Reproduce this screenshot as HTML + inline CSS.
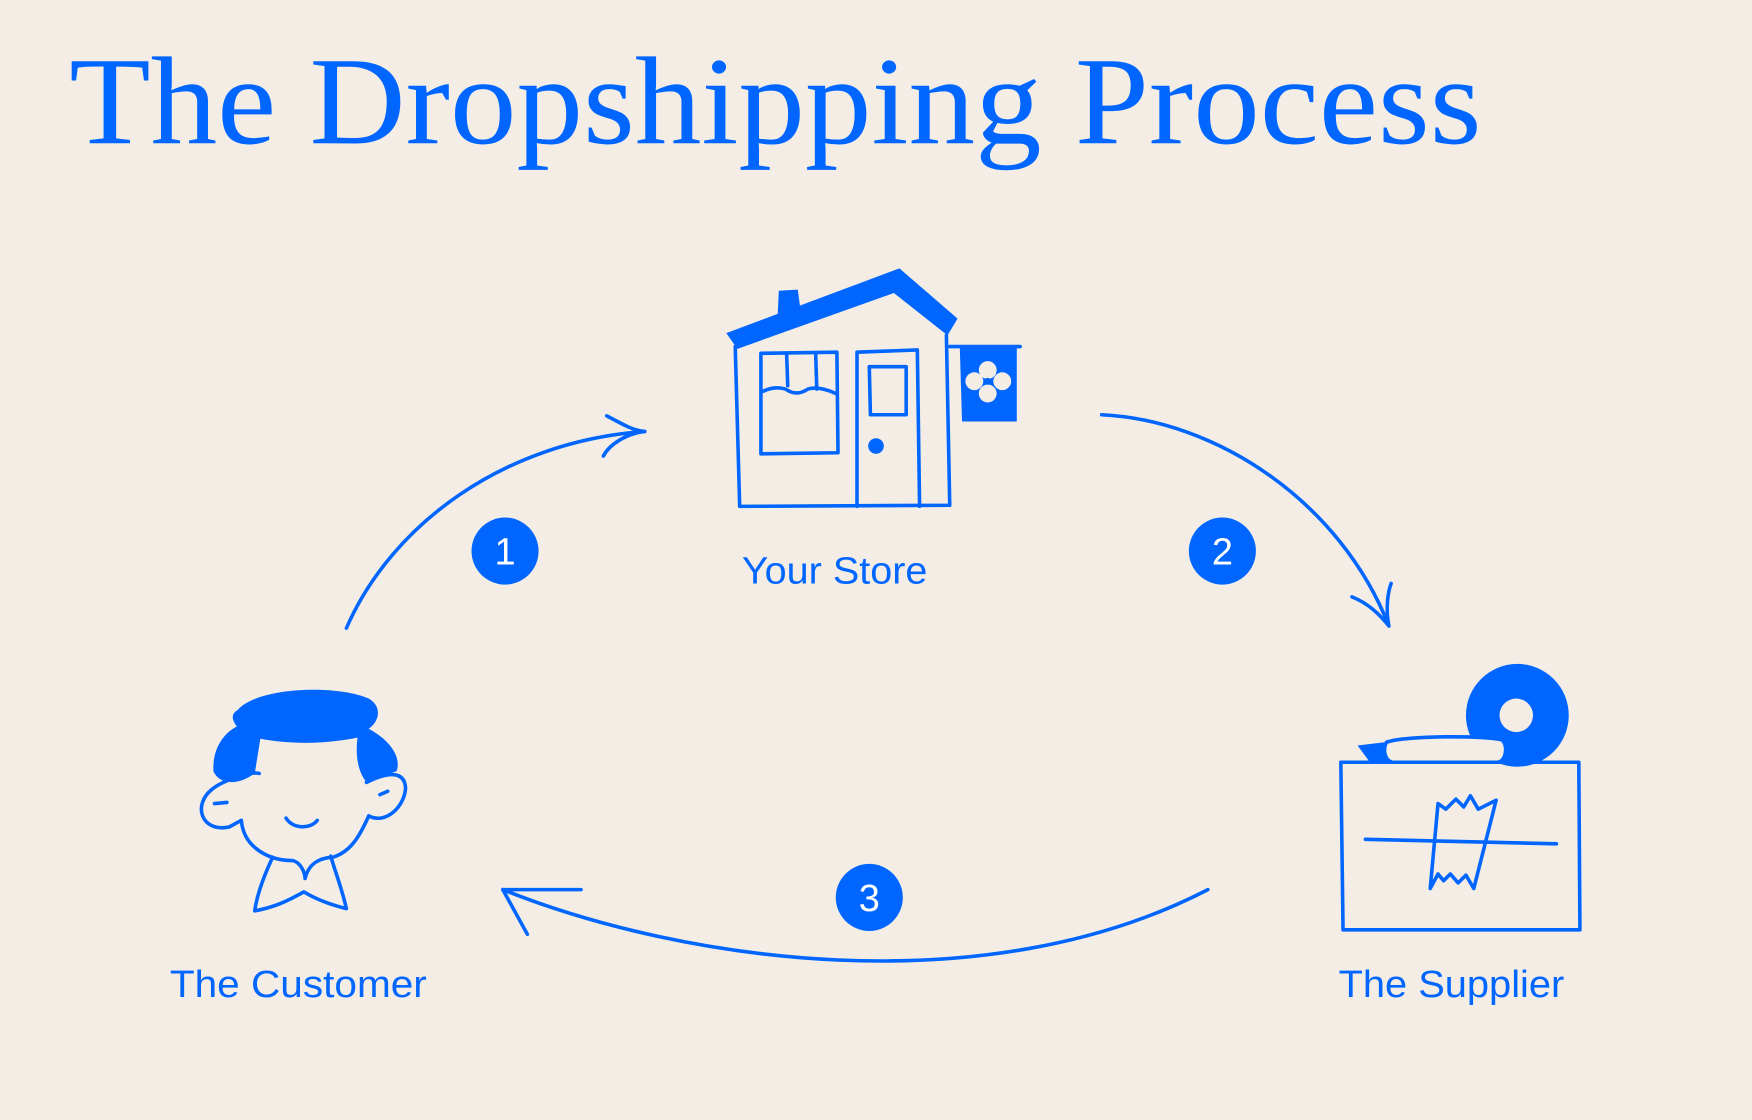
<!DOCTYPE html>
<html><head><style>
html,body{margin:0;padding:0;background:#f3ede6;}
svg{display:block;}
</style></head><body>
<svg width="1752" height="1120" viewBox="0 0 1568 1002" xmlns="http://www.w3.org/2000/svg">
<rect width="1568" height="1002" fill="#f3ede6"/>
<g fill="#0066ff" stroke="none">
<text x="62" y="128" font-family="Liberation Serif, serif" font-size="112" textLength="1264" lengthAdjust="spacingAndGlyphs">The Dropshipping Process</text>
</g>
<g fill="none" stroke="#0066ff" stroke-width="3.2" stroke-linecap="round" stroke-linejoin="round">
<path d="M310 562 C350 470 450 395 577 386"/>
<path d="M543 372 C555 378 565 385 577 386 C560 388 545 398 540 408"/>
<path d="M986 371 C1090 376 1200 450 1243 560"/>
<path d="M1210 534 C1225 540 1235 550 1243 560 C1240 545 1242 530 1245 522"/>
<path d="M1081 796 C880 900 610 860 450 796"/>
<path d="M450 796 L520 796 M450 796 L472 836"/>
<path d="M658 310 L662 453 L850 452 L847 300"/>
<path d="M681 316 L749 315 L750 405 L681 406 Z"/>
<path d="M704 316 L705 345 M730 316 L731 348"/>
<path d="M683 350 Q693 345 703 348 Q713 355 723 348 Q733 345 748 352"/>
<path d="M767 453 L767 315 L821 313 L823 453"/>
<path d="M778 328 L811 328 L811 371 L779 371 Z"/>
<path d="M850 310 L913 310"/>
<path d="M1200 682 L1413 682 L1414 832 L1202 832 Z"/>
<path d="M1222 751 L1393 755"/>
<path d="M1280 795 L1287 719 L1294 724 L1303 715 L1310 722 L1316 712 L1323 724 L1339 716 L1319 795 L1312 783 L1305 790 L1298 782 L1292 788 L1287 782 Z"/>
<path d="M1259 662 L1266 670 M1286 662 L1292 670 M1308 662 L1314 670"/>
<path d="M232 692 C225 690 200 698 190 706 C172 720 180 745 205 740 L216 734 C218 758 240 770 262 770 C270 772 273 782 273 786 C275 778 280 768 298 767 C314 762 322 748 330 730 C345 738 362 722 363 705 C362 690 348 690 328 700"/>
<path d="M192 719 L203 718 M340 711 L347 708"/>
<path d="M256 732 C262 742 278 742 284 734"/>
<path d="M244 767 C237 782 230 800 228 815 C245 812 258 806 272 798 C285 806 298 810 310 813 C306 795 300 780 296 766"/>
</g>
<g fill="#0066ff">
<path d="M650 298 L805 240 L857 285 L848 300 L800 262 L660 312 Z"/>
<path d="M696 282 L697 260 L714 259 L716 274 Z"/>
<path d="M859 311 L910 310 L910 377 L861 377 Z"/>
<circle cx="784" cy="399" r="7"/>
<circle cx="1358" cy="640" r="46"/>
<path d="M1215 667 L1240 664 L1242 681 L1226 682 Z"/>
<path d="M213 635 C230 615 300 612 330 625 C342 632 340 645 330 652 C345 660 360 675 355 690 L328 700 C320 690 318 675 320 660 C290 666 260 666 233 661 L228 692 C210 705 195 700 191 690 C190 670 200 656 212 650 C206 642 208 638 213 635 Z"/>
<circle cx="452" cy="493" r="30"/>
<circle cx="1094" cy="493" r="30"/>
<circle cx="778" cy="803" r="30"/>
</g>
<g fill="#f3ede6">
<circle cx="1357" cy="640" r="15"/>
<path d="M1241 664 C1260 658 1330 658 1344 662 C1350 666 1348 682 1340 682 L1246 682 C1238 680 1238 668 1241 664 Z"/>
<circle cx="884" cy="331" r="8"/><circle cx="884" cy="352" r="8"/><circle cx="872" cy="341" r="8"/><circle cx="897" cy="341" r="8"/>
</g>
<path d="M1241 664 C1260 658 1330 658 1344 662 C1350 666 1348 682 1340 682 L1246 682 C1238 680 1238 668 1241 664 Z" fill="none" stroke="#0066ff" stroke-width="3.2"/>
<circle cx="884" cy="341" r="3" fill="#0066ff"/>
<g fill="#fff" font-family="Liberation Sans, sans-serif" font-size="34" text-anchor="middle">
<text x="452" y="505">1</text><text x="1094" y="505">2</text><text x="778" y="815">3</text>
</g>
<g fill="#0066ff" font-family="Liberation Sans, sans-serif" font-size="34" text-anchor="middle">
<text x="747" y="522" textLength="166" lengthAdjust="spacingAndGlyphs">Your Store</text>
<text x="267" y="892" textLength="230" lengthAdjust="spacingAndGlyphs">The Customer</text>
<text x="1299" y="892" textLength="202" lengthAdjust="spacingAndGlyphs">The Supplier</text>
</g>
</svg>
</body></html>
